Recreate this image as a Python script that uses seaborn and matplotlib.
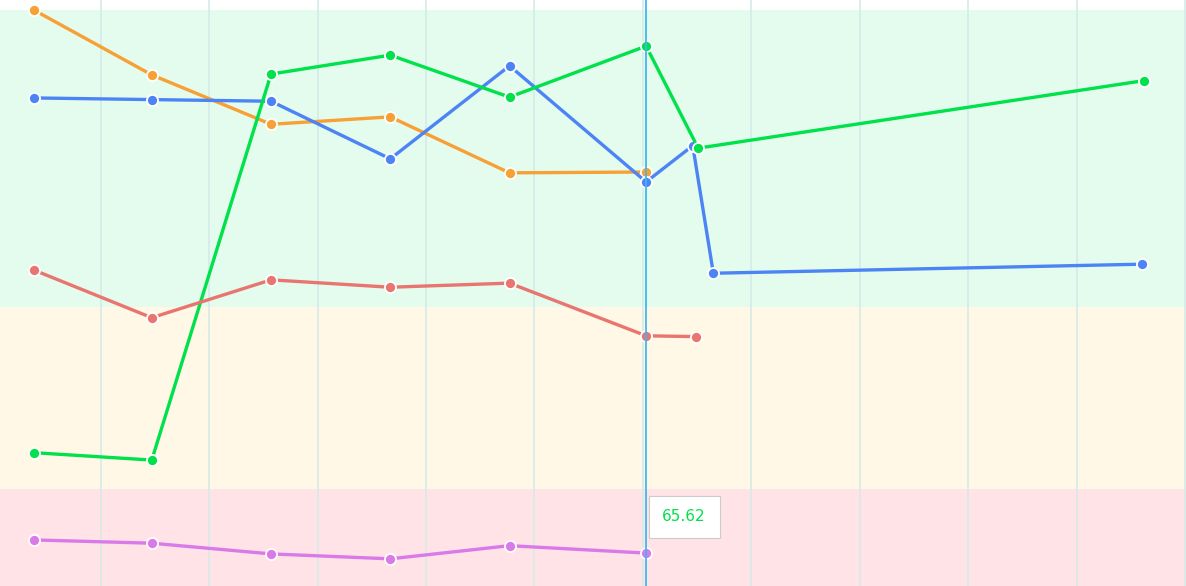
import matplotlib
matplotlib.use("Agg")
import matplotlib.pyplot as plt
import seaborn as sns
import pandas as pd

orange_x = [-0.62, 0.47, 1.57, 2.67, 3.77, 5.03]
orange_y = [70.0, 62.1, 56.1, 57.0, 50.2, 50.3]
blue_x = [-0.62, 0.47, 1.57, 2.67, 3.77, 5.03, 5.46, 5.65, 9.60]
blue_y = [59.3, 59.1, 58.9, 51.9, 63.2, 49.1, 53.5, 38.0, 39.1]
green_x = [-0.62, 0.47, 1.57, 2.67, 3.77, 5.03, 5.51, 9.62]
green_y = [16.2, 15.3, 62.2, 64.5, 59.4, 65.6, 53.2, 61.4]
red_x = [-0.62, 0.47, 1.57, 2.67, 3.77, 5.03, 5.49]
red_y = [38.4, 32.6, 37.2, 36.3, 36.8, 30.4, 30.3]
purple_x = [-0.62, 0.47, 1.57, 2.67, 3.77, 5.03]
purple_y = [5.6, 5.2, 3.9, 3.3, 4.9, 4.0]

series = [("orange", orange_x, orange_y, "#f7a035"),
          ("blue", blue_x, blue_y, "#4c84f5"),
          ("green", green_x, green_y, "#00e14b"),
          ("red", red_x, red_y, "#e8756f"),
          ("purple", purple_x, purple_y, "#d97ae8")]

bands = [(0, 11.8, "#ffe3e6"), (11.8, 33.9, "#fff8e6"), (33.9, 70.0, "#e3fcee")]
cursor_x = 5.03
tooltip_text = "65.62"

fig = plt.figure(figsize=(11.86, 5.86), dpi=100)
ax = fig.add_axes([0, 0, 1, 1])
ax.set_xlim(-0.93, 10.01)
ax.set_ylim(0, 71.2)
for lo, hi, c in bands:
    ax.axhspan(lo, hi, color=c, lw=0, zorder=0)
for gx in range(0, 11):
    ax.axvline(gx, color="#d5ebe8", lw=1.2, zorder=1)

for name, xs, ys, c in series:
    df = pd.DataFrame({"x": xs, "y": ys})
    sns.lineplot(data=df, x="x", y="y", ax=ax, color=c, lw=2.4, sort=False,
                 marker="o", markersize=8, markeredgecolor="white",
                 markeredgewidth=1.3, zorder=3)

ax.axvline(cursor_x, color="#3fb8f0", lw=1.3, zorder=4)
ax.text(cursor_x + 0.35, 8.4, tooltip_text, color="#00e14b", fontsize=11,
        ha="center", va="center", zorder=5,
        bbox=dict(boxstyle="square,pad=0.9", fc="white", ec="#cccccc", lw=0.8))

ax.set_axis_off()
fig.savefig("out.png", dpi=100)
